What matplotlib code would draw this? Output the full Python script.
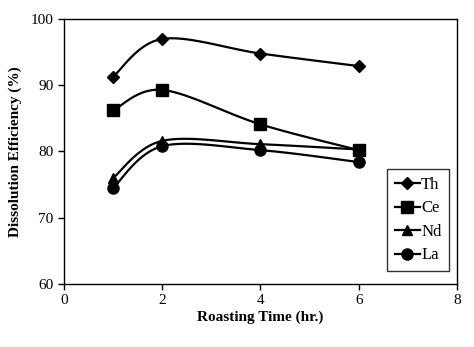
import numpy as np
import matplotlib
matplotlib.use('Agg')
import matplotlib.pyplot as plt

plt.rcParams['font.family'] = ['Liberation Serif', 'DejaVu Serif']

# roasting time (hr.)
time = [1, 2, 4, 6]

th = [91.3, 97.0, 94.8, 92.9]
ce = [86.2, 89.3, 84.1, 80.2]
nd = [76.0, 81.6, 81.1, 80.3]
la = [74.5, 80.8, 80.2, 78.4]

series = [('Th', th, 'D', 6), ('Ce', ce, 's', 8), ('Nd', nd, '^', 7.5), ('La', la, 'o', 8)]


def smooth(x, y, n=40):
    # catmull-rom style curve, like excel's smoothed line
    x = np.asarray(x, float)
    y = np.asarray(y, float)
    px = np.concatenate([[x[0]], x, [x[-1]]])
    py = np.concatenate([[y[0]], y, [y[-1]]])
    xs, ys = [], []
    for i in range(1, len(px) - 2):
        p0, p1, p2, p3 = [np.array([px[j], py[j]]) for j in (i - 1, i, i + 1, i + 2)]
        c1 = p1 + (p2 - p0) / 6
        c2 = p2 - (p3 - p1) / 6
        t = np.linspace(0, 1, n)[:, None]
        pts = (1 - t) ** 3 * p1 + 3 * (1 - t) ** 2 * t * c1 + 3 * (1 - t) * t ** 2 * c2 + t ** 3 * p2
        xs.extend(pts[:, 0])
        ys.extend(pts[:, 1])
    return xs, ys


fig = plt.figure(figsize=(4.74, 3.47), dpi=100)
ax = fig.add_axes([0.135, 0.182, 0.829, 0.763])

for name, vals, mk, ms in series:
    sx, sy = smooth(time, vals)
    ax.plot(sx, sy, color='black', lw=1.6)
    ax.plot(time, vals, linestyle='none', marker=mk, markersize=ms, color='black')
    ax.plot([], [], color='black', lw=1.6, marker=mk, markersize=ms, label=name)

ax.set_xlim(0, 8)
ax.set_ylim(60, 100)
ax.set_xticks([0, 2, 4, 6, 8])
ax.set_yticks([60, 70, 80, 90, 100])
ax.tick_params(direction='out', length=4, width=1, labelsize=11)
for s in ax.spines.values():
    s.set_linewidth(1)

ax.set_xlabel('Roasting Time (hr.)', fontsize=11, fontweight='bold', labelpad=2)
ax.set_ylabel('Dissolution Efficiency (%)', fontsize=11, fontweight='bold', labelpad=6)

leg = ax.legend(loc='lower right', bbox_to_anchor=(0.98, 0.049), borderaxespad=0,
                fontsize=12, frameon=True, fancybox=False, handlelength=1.5,
                handletextpad=0.1, labelspacing=0.45, borderpad=0.45)
leg.get_frame().set_edgecolor('black')
leg.get_frame().set_linewidth(1)

fig.savefig('out.png', dpi=100)
